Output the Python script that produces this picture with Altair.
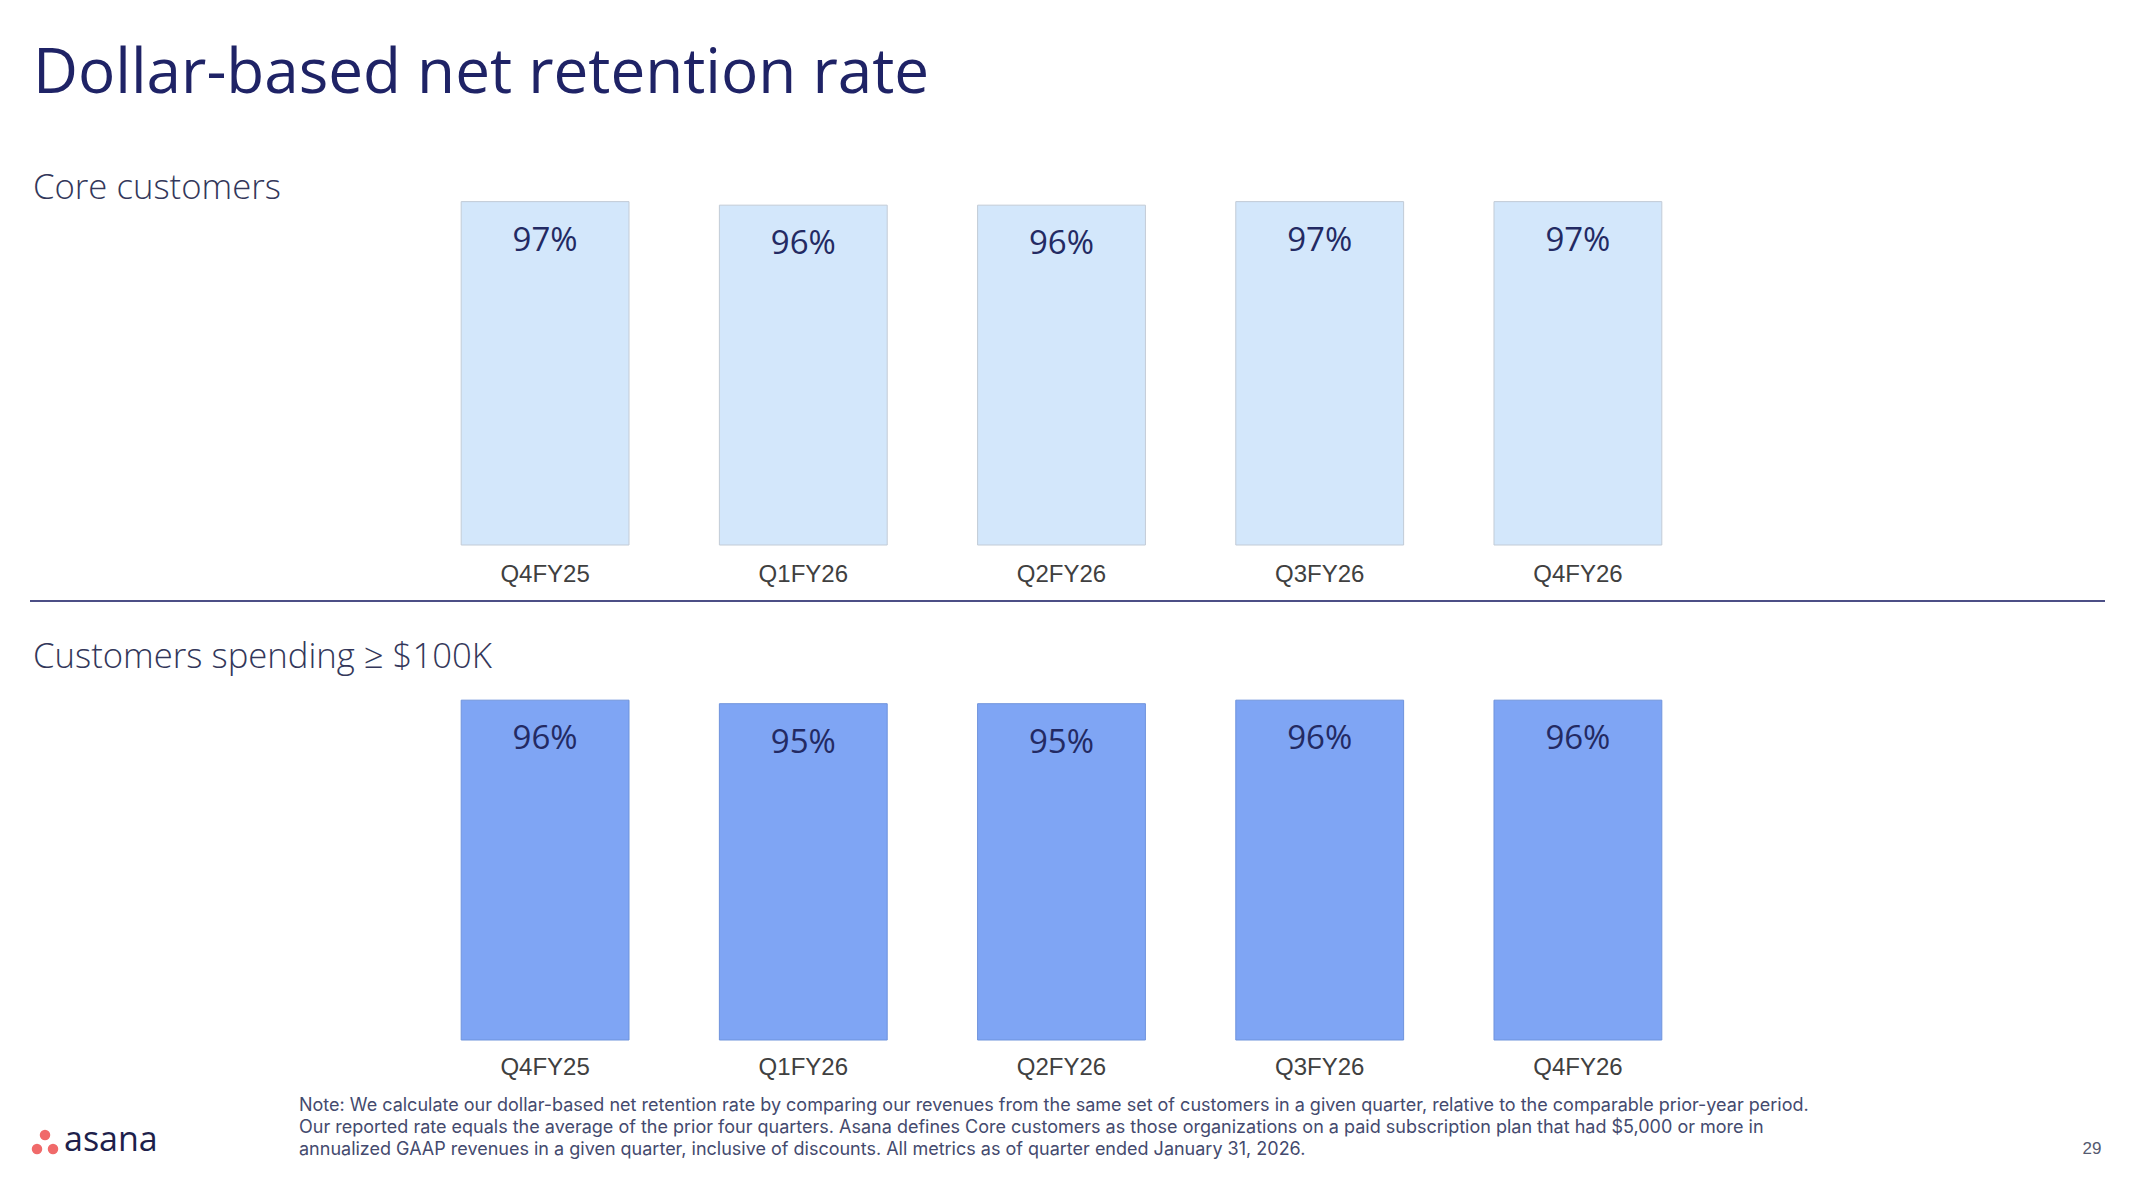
import altair as alt
import pandas as pd

# ---- data ----
quarters = ["Q4FY25", "Q1FY26", "Q2FY26", "Q3FY26", "Q4FY26"]
core_values = [97, 96, 96, 97, 97]
large_values = [96, 95, 95, 96, 96]

title_text = "Dollar-based net retention rate"
panel_titles = ["Core customers", "Customers spending \u2265 $100K"]
note_lines = [
    "Note: We calculate our dollar-based net retention rate by comparing our revenues from the same set of customers in a given quarter, relative to the comparable prior-year period.",
    "Our reported rate equals the average of the prior four quarters. Asana defines Core customers as those organizations on a paid subscription plan that had $5,000 or more in",
    "annualized GAAP revenues in a given quarter, inclusive of discounts. All metrics as of quarter ended January 31, 2026.",
]
page_number = "29"
logo_text = "asana"

core_df = pd.DataFrame({"quarter": quarters, "value": core_values})
large_df = pd.DataFrame({"quarter": quarters, "value": large_values})
core_df["label"] = core_df["value"].astype(str) + "%"
large_df["label"] = large_df["value"].astype(str) + "%"

W, H = 2142, 1198
NAVY = "#1F2366"
TEXT_NAVY = "#232A63"

xscale = alt.Scale(domain=quarters, range=[416, 1707], paddingInner=0.35, paddingOuter=0.175)


def panel(df, fill, stroke, y_bottom, label_y):
    ysc = alt.Scale(domain=[0, 100], range=[y_bottom, y_bottom - 354], nice=False, zero=True)
    x = alt.X("quarter:N", scale=xscale, axis=None, sort=quarters)
    y = alt.Y("value:Q", scale=ysc, axis=None)
    bars = alt.Chart(df).mark_bar(fill=fill, stroke=stroke, strokeWidth=1).encode(x=x, y=y)
    vals = alt.Chart(df).mark_text(
        font="Open Sans", fontSize=33, color=TEXT_NAVY, baseline="middle", dy=39
    ).encode(x=x, y=y, text="label:N")
    labs = alt.Chart(df).mark_text(
        font="Liberation Sans", fontSize=24, color="#404040", baseline="middle"
    ).encode(x=x, y=alt.value(label_y), text="quarter:N")
    return alt.layer(bars, vals, labs)


top = panel(core_df, "#D3E7FB", "#C2CBD6", 545, 575)
bottom = panel(large_df, "#7FA5F4", "#6F93DC", 1040, 1068)

one = pd.DataFrame({"k": [0]})

title = alt.Chart(one).mark_text(
    font="Open Sans", fontSize=62, fontWeight=500, color=NAVY, align="left", baseline="alphabetic"
).encode(x=alt.value(33), y=alt.value(93), text=alt.value(title_text))

sub1 = alt.Chart(one).mark_text(
    font="Open Sans", fontSize=34.7, fontWeight=300, color="#33375A", align="left", baseline="alphabetic"
).encode(x=alt.value(33), y=alt.value(199), text=alt.value(panel_titles[0]))

sub2 = alt.Chart(one).mark_text(
    font="Open Sans", fontSize=34.7, fontWeight=300, color="#33375A", align="left", baseline="alphabetic"
).encode(x=alt.value(33), y=alt.value(668), text=alt.value(panel_titles[1]))

divider = alt.Chart(one).mark_rule(color="#4C4F86", strokeWidth=2).encode(
    x=alt.value(30), x2=alt.value(2105), y=alt.value(601)
)

note = alt.Chart(one).mark_text(
    font="Inter", fontSize=18, color="#444A6E", align="left", baseline="top", lineHeight=22
).encode(x=alt.value(299), y=alt.value(1097), text=alt.value(note_lines))

page = alt.Chart(one).mark_text(
    font="Liberation Sans", fontSize=17, color="#555A70", align="center", baseline="middle"
).encode(x=alt.value(2092), y=alt.value(1149), text=alt.value(page_number))

dots_df = pd.DataFrame({"dx": [45, 37, 53], "dy": [1135, 1149, 1149]})
logo_dots = alt.Chart(dots_df).mark_circle(color="#F06A6A", opacity=1, size=110).encode(
    x=alt.X("dx:Q", scale=alt.Scale(domain=[0, W], range=[0, W]), axis=None),
    y=alt.Y("dy:Q", scale=alt.Scale(domain=[0, H], range=[0, H]), axis=None),
)
logo_txt = alt.Chart(one).mark_text(
    font="Open Sans", fontSize=34, color="#1E1F4B", align="left", baseline="middle"
).encode(x=alt.value(64), y=alt.value(1141), text=alt.value(logo_text))

chart = (
    alt.layer(top, bottom, logo_dots, title, sub1, sub2, divider, note, page, logo_txt)
    .resolve_scale(y="independent", x="independent")
    .properties(width=W, height=H, autosize=alt.AutoSizeParams(type="none"), padding=0, background="white")
    .configure_view(stroke=None)
)

chart.save("out.html", embed_options={"renderer": "svg", "actions": False})
